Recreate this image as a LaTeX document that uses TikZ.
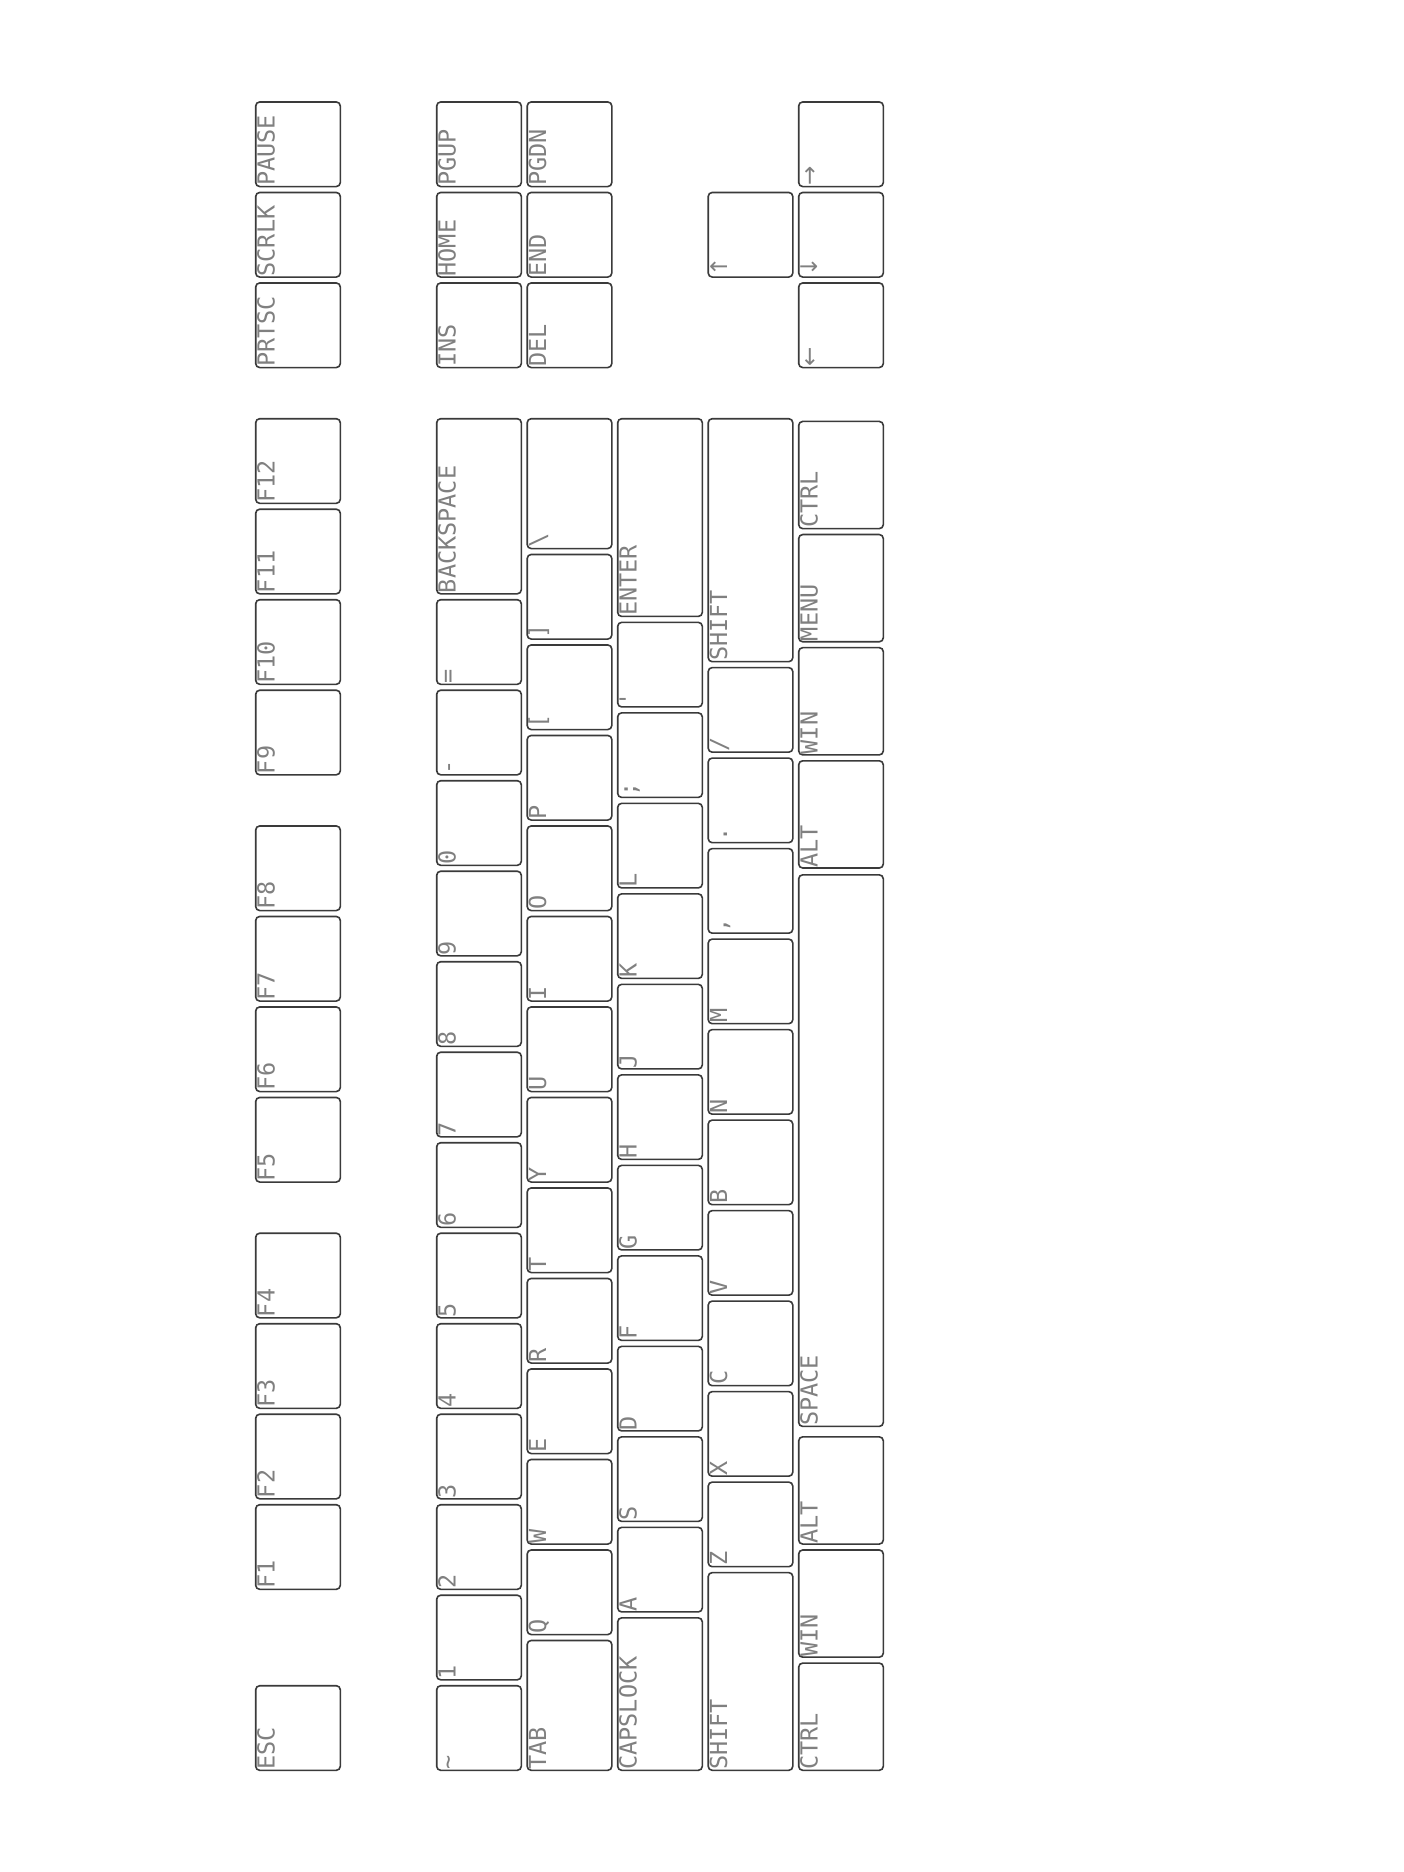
\documentclass[tikz,border=0pt]{standalone}
\usepackage{fontspec}
\setmonofont{DejaVu Sans Mono}
\newfontfamily\arrowfont{DejaVu Sans}
\definecolor{keyline}{HTML}{3A3A3A}
\definecolor{textgray}{HTML}{808080}
\tikzset{
  keybox/.style={draw=keyline, line width=1.6pt, rounded corners=4pt, inner sep=0pt, outer sep=0pt},
  lbl/.style={rotate=90, anchor=base west, inner sep=0pt, text=textgray, font=\ttfamily\fontsize{23.5pt}{24pt}\selectfont}
}
% name, kx, ky, width(units), label
\newcommand\kb[5]{%
  \node[keybox, minimum width=84.6pt, minimum height={#4*90.5pt-5.9pt}, anchor=south west] (#1) at ({255.7+#3*90.5},{1770.3-#2*90.5}) {};
  \node[lbl] (#1t) at ([xshift=19pt,yshift=0.5pt]#1.south west) {#5};
}
\newcommand\arr[1]{{\arrowfont\fontsize{23pt}{24pt}\selectfont #1}}
\begin{document}
\begin{tikzpicture}[x=1pt,y=-1pt]
\useasboundingbox[fill=white] (0,0) rectangle (1404,1872);
% function row
\kb{kesc}{0}{0}{1}{ESC}
\kb{kf1}{2}{0}{1}{F1}
\kb{kf2}{3}{0}{1}{F2}
\kb{kf3}{4}{0}{1}{F3}
\kb{kf4}{5}{0}{1}{F4}
\kb{kf5}{6.5}{0}{1}{F5}
\kb{kf6}{7.5}{0}{1}{F6}
\kb{kf7}{8.5}{0}{1}{F7}
\kb{kf8}{9.5}{0}{1}{F8}
\kb{kf9}{11}{0}{1}{F9}
\kb{kf10}{12}{0}{1}{F10}
\kb{kf11}{13}{0}{1}{F11}
\kb{kf12}{14}{0}{1}{F12}
\kb{kprt}{15.5}{0}{1}{PRTSC}
\kb{kscr}{16.5}{0}{1}{SCRLK}
\kb{kpau}{17.5}{0}{1}{PAUSE}
% number row
\kb{ktil}{0}{2}{1}{\textasciitilde}
\kb{kn1}{1}{2}{1}{1}
\kb{kn2}{2}{2}{1}{2}
\kb{kn3}{3}{2}{1}{3}
\kb{kn4}{4}{2}{1}{4}
\kb{kn5}{5}{2}{1}{5}
\kb{kn6}{6}{2}{1}{6}
\kb{kn7}{7}{2}{1}{7}
\kb{kn8}{8}{2}{1}{8}
\kb{kn9}{9}{2}{1}{9}
\kb{kn0}{10}{2}{1}{0}
\kb{kmin}{11}{2}{1}{-}
\kb{keq}{12}{2}{1}{=}
\kb{kbks}{13}{2}{2}{BACKSPACE}
\kb{kins}{15.5}{2}{1}{INS}
\kb{khom}{16.5}{2}{1}{HOME}
\kb{kpgu}{17.5}{2}{1}{PGUP}
% qwerty row
\kb{ktab}{0}{3}{1.5}{TAB}
\kb{kq}{1.5}{3}{1}{Q}
\kb{kw}{2.5}{3}{1}{W}
\kb{ke}{3.5}{3}{1}{E}
\kb{kr}{4.5}{3}{1}{R}
\kb{kt}{5.5}{3}{1}{T}
\kb{ky}{6.5}{3}{1}{Y}
\kb{ku}{7.5}{3}{1}{U}
\kb{ki}{8.5}{3}{1}{I}
\kb{ko}{9.5}{3}{1}{O}
\kb{kp}{10.5}{3}{1}{P}
\kb{klb}{11.5}{3}{1}{[}
\kb{krb}{12.5}{3}{1}{]}
\kb{kbsl}{13.5}{3}{1.5}{\textbackslash}
\kb{kdel}{15.5}{3}{1}{DEL}
\kb{kend}{16.5}{3}{1}{END}
\kb{kpgd}{17.5}{3}{1}{PGDN}
% home row
\kb{kcap}{0}{4}{1.75}{CAPSLOCK}
\kb{ka}{1.75}{4}{1}{A}
\kb{ks}{2.75}{4}{1}{S}
\kb{kd}{3.75}{4}{1}{D}
\kb{kf}{4.75}{4}{1}{F}
\kb{kg}{5.75}{4}{1}{G}
\kb{kh}{6.75}{4}{1}{H}
\kb{kj}{7.75}{4}{1}{J}
\kb{kk}{8.75}{4}{1}{K}
\kb{kl}{9.75}{4}{1}{L}
\kb{ksc}{10.75}{4}{1}{;}
\kb{kap}{11.75}{4}{1}{'}
\kb{kent}{12.75}{4}{2.25}{ENTER}
% shift row
\kb{klsh}{0}{5}{2.25}{SHIFT}
\kb{kz}{2.25}{5}{1}{Z}
\kb{kx}{3.25}{5}{1}{X}
\kb{kc}{4.25}{5}{1}{C}
\kb{kv}{5.25}{5}{1}{V}
\kb{kb}{6.25}{5}{1}{B}
\kb{kn}{7.25}{5}{1}{N}
\kb{km}{8.25}{5}{1}{M}
\kb{kcom}{9.25}{5}{1}{,}
\kb{kdot}{10.25}{5}{1}{.}
\kb{ksl}{11.25}{5}{1}{/}
\kb{krsh}{12.25}{5}{2.75}{SHIFT}
\kb{kup}{16.5}{5}{1}{\arr{↑}}
% bottom row
\kb{klct}{0}{6}{1.25}{CTRL}
\kb{klwi}{1.25}{6}{1.25}{WIN}
\kb{klal}{2.5}{6}{1.25}{ALT}
\kb{kspc}{3.8}{6}{6.16}{SPACE}
\kb{kral}{9.97}{6}{1.25}{ALT}
\kb{krwi}{11.22}{6}{1.25}{WIN}
\kb{kmen}{12.47}{6}{1.25}{MENU}
\kb{krct}{13.72}{6}{1.25}{CTRL}
\kb{klft}{15.5}{6}{1}{\arr{←}}
\kb{kdn}{16.5}{6}{1}{\arr{↓}}
\kb{krt}{17.5}{6}{1}{\arr{→}}
\end{tikzpicture}
\end{document}
